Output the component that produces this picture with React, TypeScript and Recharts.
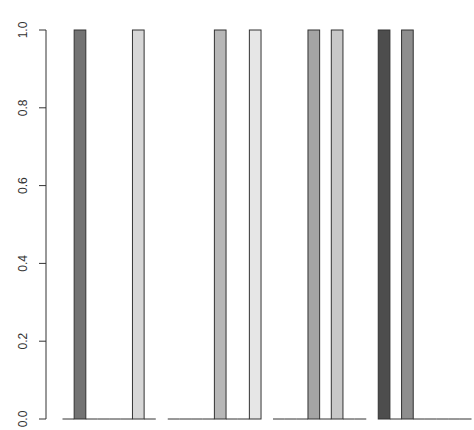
import { BarChart, Bar, XAxis, YAxis } from 'recharts'

// four groups, eight series each (R barplot, beside = TRUE, 0/1 values)
const groups = ['G1', 'G2', 'G3', 'G4']
const s1 = [0, 0, 0, 1]
const s2 = [1, 0, 0, 0]
const s3 = [0, 0, 0, 1]
const s4 = [0, 0, 1, 0]
const s5 = [0, 1, 0, 0]
const s6 = [0, 0, 1, 0]
const s7 = [1, 0, 0, 0]
const s8 = [0, 1, 0, 0]
const yTicks = [0, 0.2, 0.4, 0.6, 0.8, 1.0]

const seriesValues = [s1, s2, s3, s4, s5, s6, s7, s8]
// gray.colors(8)
const grays = ['#4D4D4D', '#737373', '#8E8E8E', '#A4A4A4', '#B7B7B7', '#C8C8C8', '#D7D7D7', '#E6E6E6']
const INK = '#333333'

const rows = groups.map((g, gi) => {
  const row: Record<string, string | number> = { group: g }
  seriesValues.forEach((vals, si) => {
    row[`s${si + 1}`] = vals[gi]
  })
  return row
})

// zero-height bars still get their outline drawn, which makes the baseline
function BarShape(props: any) {
  const { x, y, width, height, fill } = props
  if (!height || Math.abs(height) < 0.5) {
    return <line x1={x} x2={x + width} y1={y} y2={y} stroke={INK} strokeWidth={1} />
  }
  return <rect x={x} y={y} width={width} height={height} fill={fill} stroke={INK} strokeWidth={1} />
}

function YTick(props: any) {
  const { x, y, payload } = props
  return (
    <text
      x={x}
      y={y}
      transform={`rotate(-90, ${x}, ${y})`}
      textAnchor="middle"
      dominantBaseline="central"
      fontSize={12}
      fontFamily="'Liberation Sans', Arial, sans-serif"
      fill={INK}
    >
      {Number(payload.value).toFixed(1)}
    </text>
  )
}

export default function App() {
  return (
    <div style={{ position: 'absolute', left: 0, top: 0, width: 474, height: 430, overflow: 'hidden', background: '#fff' }}>
      <BarChart
        width={488}
        height={430}
        data={rows}
        margin={{ top: 30, right: 0, bottom: 11, left: 0 }}
        barGap={0}
        barSize={11.66}
      >
        <XAxis dataKey="group" hide padding={{ left: 10.5, right: 10.5 }} />
        <YAxis
          width={46}
          domain={[0, 1]}
          ticks={yTicks}
          interval={0}
          tickSize={7}
          tickMargin={16}
          axisLine={{ stroke: INK }}
          tickLine={{ stroke: INK }}
          tick={<YTick />}
        />
        {seriesValues.map((_, i) => (
          <Bar
            key={i}
            dataKey={`s${i + 1}`}
            fill={grays[i]}
            shape={<BarShape />}
            isAnimationActive={false}
          />
        ))}
      </BarChart>
    </div>
  )
}
